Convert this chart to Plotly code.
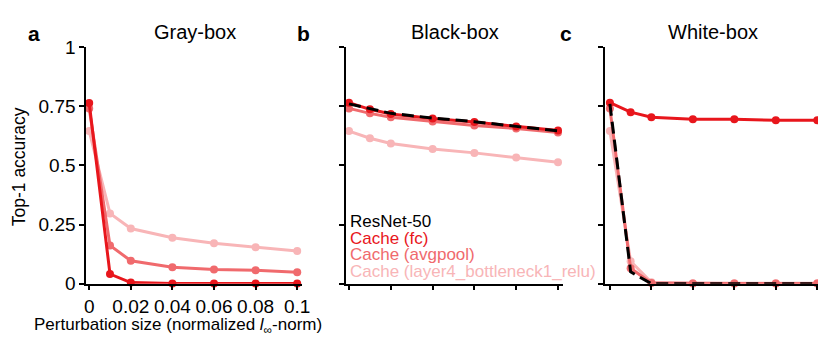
import plotly.graph_objects as go

x_vals = [0, 0.01, 0.02, 0.04, 0.06, 0.08, 0.1]
tick_vals = [0, 0.02, 0.04, 0.06, 0.08, 0.1]
tick_text = ["0", "0.02", "0.04", "0.06", "0.08", "0.1"]
y_tick_vals = [0, 0.25, 0.5, 0.75, 1]
y_tick_text = ["0", "0.25", "0.5", "0.75", "1"]

panel_titles = ["Gray-box", "Black-box", "White-box"]
panel_letters = ["a", "b", "c"]
series_names = ["ResNet-50", "Cache (fc)", "Cache (avgpool)", "Cache (layer4_bottleneck1_relu)"]

# Gray-box
gray_fc = [0.764, 0.041, 0.005, 0.001, 0.001, 0.001, 0.001]
gray_avgpool = [0.741, 0.162, 0.097, 0.070, 0.060, 0.057, 0.049]
gray_layer4 = [0.645, 0.297, 0.233, 0.194, 0.171, 0.154, 0.138]

# Black-box
black_resnet = [0.760, 0.740, 0.720, 0.700, 0.685, 0.665, 0.646]
black_fc = [0.765, 0.737, 0.717, 0.698, 0.683, 0.664, 0.648]
black_avgpool = [0.741, 0.720, 0.704, 0.686, 0.669, 0.656, 0.639]
black_layer4 = [0.645, 0.615, 0.593, 0.569, 0.553, 0.533, 0.513]

# White-box
white_resnet = [0.760, 0.050, 0.000, 0.000, 0.000, 0.000, 0.000]
white_fc = [0.765, 0.725, 0.704, 0.695, 0.695, 0.691, 0.691]
white_avgpool = [0.741, 0.065, 0.003, 0.001, 0.001, 0.001, 0.001]
white_layer4 = [0.645, 0.095, 0.006, 0.002, 0.002, 0.002, 0.002]

col_resnet = "#000000"
col_fc = "#e8161c"
col_avg = "#f06a6d"
col_l4 = "#f8b5b7"

FONT = "Liberation Sans, Arial, Helvetica, sans-serif"
W, H = 826, 344

fig = go.Figure()

panels = [
    (dict(resnet=None, fc=gray_fc, avg=gray_avgpool, l4=gray_layer4), "x", "y"),
    (dict(resnet=black_resnet, fc=black_fc, avg=black_avgpool, l4=black_layer4), "x2", "y2"),
    (dict(resnet=white_resnet, fc=white_fc, avg=white_avgpool, l4=white_layer4), "x3", "y3"),
]

for data, xa, ya in panels:
    for key, col, name in [("l4", col_l4, series_names[3]), ("avg", col_avg, series_names[2]), ("fc", col_fc, series_names[1])]:
        fig.add_trace(go.Scatter(
            x=x_vals, y=data[key], mode="lines+markers", name=name,
            line=dict(color=col, width=3), marker=dict(color=col, size=8),
            xaxis=xa, yaxis=ya, cliponaxis=False, showlegend=False))
    if data["resnet"] is not None:
        fig.add_trace(go.Scatter(
            x=x_vals, y=data["resnet"], mode="lines", name=series_names[0],
            line=dict(color=col_resnet, width=3, dash="12px,6px"),
            xaxis=xa, yaxis=ya, cliponaxis=False, showlegend=False))

y_dom = [1 - 283 / H, 1 - 31 / H]
x_doms = [[77 / W, 296 / W], [340 / W, 560 / W], [602 / W, 822 / W]]
x_ranges = [[-0.0015, 0.1025], [-0.0015, 0.1025], [-0.0025, 0.1023]]

axis_common = dict(showline=True, linecolor="black", linewidth=1.5, ticks="outside",
                   ticklen=5, tickwidth=1.5, tickcolor="black", showgrid=False,
                   zeroline=False, tickfont=dict(family=FONT, size=19, color="black"))

layout = dict(width=W, height=H, margin=dict(l=0, r=0, t=0, b=0),
              paper_bgcolor="white", plot_bgcolor="white", showlegend=False,
              font=dict(family=FONT, color="black"))

for i in range(3):
    sx = "" if i == 0 else str(i + 1)
    layout["xaxis" + sx] = dict(axis_common, domain=x_doms[i], range=x_ranges[i],
                                tickvals=tick_vals, ticktext=tick_text,
                                showticklabels=(i == 0), anchor="y" + sx)
    layout["yaxis" + sx] = dict(axis_common, domain=y_dom, range=[0, 1],
                                tickvals=y_tick_vals, ticktext=y_tick_text,
                                showticklabels=(i == 0), anchor="x" + sx)

fig.update_layout(**layout)

ann = []
title_x = [187, 450, 712]
letter_x = [24, 297, 563]
for i in range(3):
    ann.append(dict(text=panel_titles[i], x=title_x[i] / W, y=1 - 15 / H, xref="paper", yref="paper",
                    showarrow=False, xanchor="center", yanchor="middle",
                    font=dict(family=FONT, size=20, color="black")))
    ann.append(dict(text="<b>" + panel_letters[i] + "</b>", x=letter_x[i] / W, y=1 - 16 / H,
                    xref="paper", yref="paper", showarrow=False, xanchor="center", yanchor="middle",
                    font=dict(family=FONT, size=21, color="black")))

ann.append(dict(text="Top-1 accuracy", x=9 / W, y=1 - 158 / H, xref="paper", yref="paper",
                showarrow=False, textangle=-90, xanchor="center", yanchor="middle",
                font=dict(family=FONT, size=17.5, color="black")))
ann.append(dict(text="Perturbation size (normalized <i>l</i><sub>∞</sub>-norm)", x=170 / W, y=1 - 328 / H,
                xref="paper", yref="paper", showarrow=False, xanchor="center", yanchor="middle",
                font=dict(family=FONT, size=17, color="black")))

legend_cols = [col_resnet, col_fc, col_avg, col_l4]
legend_y = [217, 234.5, 252, 270]
for name, col, ly in zip(series_names, legend_cols, legend_y):
    ann.append(dict(text=name, x=342 / W, y=1 - ly / H, xref="paper", yref="paper",
                    showarrow=False, xanchor="left", yanchor="middle",
                    font=dict(family=FONT, size=17, color=col)))

fig.update_layout(annotations=ann)
fig.write_html("out.html")
